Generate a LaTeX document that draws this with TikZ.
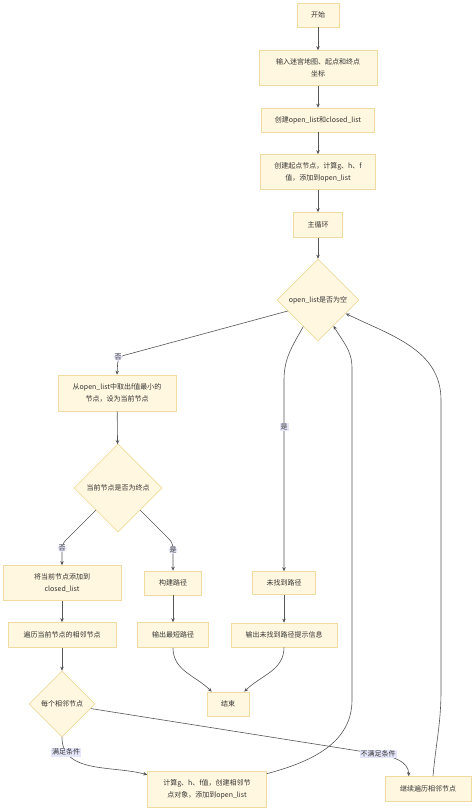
\documentclass[tikz,border=0pt]{standalone}
\usepackage{fontspec}
\setmainfont{Noto Sans CJK SC}
\usetikzlibrary{shapes.geometric,arrows.meta,calc}
\definecolor{nfill}{HTML}{FFF7DF}
\definecolor{ndraw}{HTML}{F0DCA0}
\definecolor{lfill}{HTML}{E6E6FA}
\definecolor{ecol}{HTML}{555555}
\definecolor{tcol}{HTML}{333333}
\begin{document}
\begin{tikzpicture}[x=1pt,y=1pt,
 box/.style={draw=ndraw, fill=nfill, line width=0.6pt, text=tcol, font=\fontsize{7}{12}\selectfont, align=center, inner sep=2pt},
 dia/.style={box, shape=diamond, shape aspect=1, inner sep=0pt},
 arr/.style={draw=ecol, line width=0.6pt, -{Stealth[length=4pt,width=3.5pt]}},
 lbl/.style={fill=lfill, text=tcol, font=\fontsize{7}{9}\selectfont, inner sep=1pt}]
\useasboundingbox[fill=white] (0,0) rectangle (474,-810);
% nodes
\node[box, minimum width=42pt, minimum height=24pt] (start) at (318,-15) {开始};
\node[box, minimum width=118pt, minimum height=35pt] (input) at (318,-68) {输入迷宫地图、起点和终点\\坐标};
\node[box, minimum width=113pt, minimum height=24pt] (create) at (318,-120) {创建open\_list和closed\_list};
\node[box, minimum width=115pt, minimum height=35pt] (cstart) at (318,-172) {创建起点节点，计算g、h、f\\值，添加到open\_list};
\node[box, minimum width=49pt, minimum height=25pt] (mainloop) at (318,-225) {主循环};
\node[dia, minimum width=82pt, minimum height=82pt] (d1) at (318,-300) {open\_list是否为空};
\node[box, minimum width=118pt, minimum height=36pt] (take) at (117,-393) {从open\_list中取出f值最小的\\节点，设为当前节点};
\node[dia, minimum width=88pt, minimum height=88pt] (d2) at (118,-488) {当前节点是否为终点};
\node[box, minimum width=118pt, minimum height=35pt] (addclosed) at (62,-583) {将当前节点添加到\\closed\_list};
\node[box, minimum width=57pt, minimum height=24pt] (build) at (173,-583) {构建路径};
\node[box, minimum width=63pt, minimum height=23pt] (notfound) at (284,-583) {未找到路径};
\node[box, minimum width=108pt, minimum height=25pt] (traverse) at (62,-635) {遍历当前节点的相邻节点};
\node[box, minimum width=71pt, minimum height=25pt] (outshort) at (173,-635) {输出最短路径};
\node[box, minimum width=106pt, minimum height=24pt] (outnf) at (284,-635) {输出未找到路径提示信息};
\node[box, minimum width=42pt, minimum height=24pt] (endn) at (228,-704) {结束};
\node[dia, minimum width=66pt, minimum height=66pt] (d3) at (62,-704) {每个相邻节点};
\node[box, minimum width=119pt, minimum height=36pt] (calc) at (207,-789) {计算g、h、f值，创建相邻节\\点对象，添加到open\_list};
\node[box, minimum width=86pt, minimum height=25pt] (cont) at (428,-789) {继续遍历相邻节点};
% waypoints
\coordinate (c1) at (118,-357);
\coordinate (c2) at (284,-380);
\coordinate (c3) at (378,-754);
\coordinate (c4) at (352,-700);
\coordinate (c5) at (352,-368);
\coordinate (c6) at (441,-690);
\coordinate (c7) at (441,-400);
\coordinate (dl) at (62,-544);
\coordinate (dr) at (173,-543);
% edges
\draw[arr] (start) -- (input);
\draw[arr] (input) -- (create);
\draw[arr] (create) -- (cstart);
\draw[arr] (cstart) -- (mainloop);
\draw[arr] (mainloop) -- (d1);
\draw[arr, rounded corners=6pt] (d1.200) -- (c1) node[lbl]{否} -- (take.north);
\draw[arr] (take) -- (d2);
\draw[arr, rounded corners=5pt] (d2.south west) -- (dl) -- node[lbl,pos=0.2]{否} (addclosed.north);
\draw[arr, rounded corners=5pt] (d2.south east) -- (dr) -- node[lbl,pos=0.25]{是} (build.north);
\draw[arr] (d1.241) to[out=241, in=90] (c2) -- node[lbl, pos=0.245]{是} (notfound.north);
\draw[arr] (build) -- (outshort);
\draw[arr] (notfound) -- (outnf);
\draw[arr] (addclosed) -- (traverse);
\draw[arr] (traverse) -- (d3);
\draw[arr] (outshort.south) to[out=270, in=135] ($(endn.north west)+(5,0)$);
\draw[arr] (outnf.south) to[out=270, in=45] ($(endn.north east)+(-5,0)$);
\draw[arr] (d3.south) to[out=270, in=165] node[lbl,pos=0.17]{满足条件} ($(calc.north west)+(0,-4)$);
\draw[arr] (d3.-9) -- (c3) node[lbl]{不满足条件} to[out=-9, in=90] ($(cont.north west)+(24,0)$);
\draw[arr] ($(calc.north east)+(0,-3)$) to[out=15, in=270] (c4) -- (c5) to[out=90, in=-60] (d1.-59);
\draw[arr] ($(cont.north)+(5,0)$) to[out=85, in=270] (c6) -- (c7) to[out=90, in=-26] (d1.-26);
\end{tikzpicture}
\end{document}
